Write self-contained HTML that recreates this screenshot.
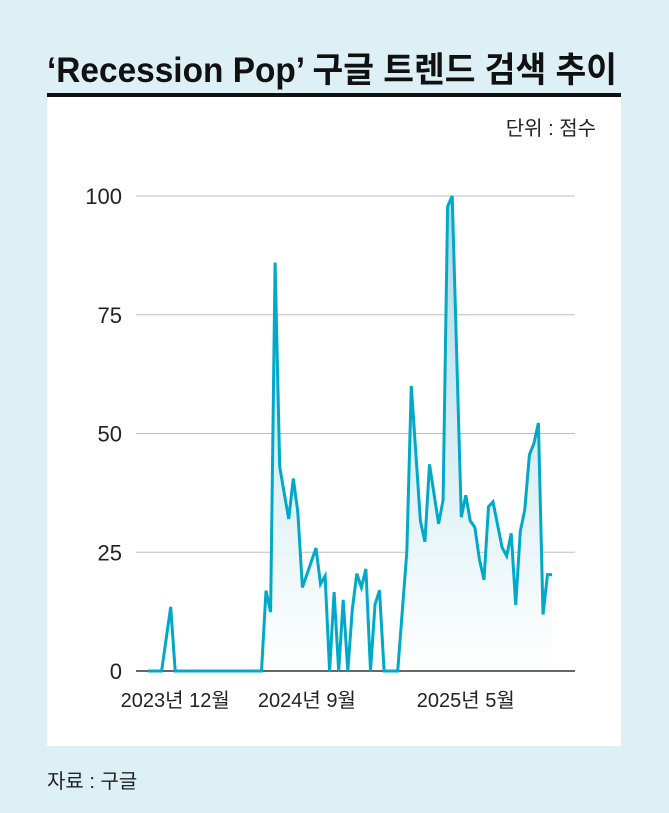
<!DOCTYPE html>
<html><head><meta charset="utf-8">
<style>
html,body{margin:0;padding:0;background:#dcf0f6;}
svg{display:block;}
text{font-family:"Liberation Sans Narrow","Liberation Sans","Noto Sans CJK KR",sans-serif;}
</style></head>
<body>
<svg width="669" height="813" viewBox="0 0 669 813">
  <defs>
    <linearGradient id="fillGrad" x1="0" y1="0" x2="0" y2="1">
      <stop offset="0" stop-color="#a9d9e8"/>
      <stop offset="1" stop-color="#ffffff" stop-opacity="0.9"/>
    </linearGradient>
  </defs>
  <rect x="0" y="0" width="669" height="813" fill="#dcf0f6"/>
  <text x="47" y="82" font-size="35" font-weight="bold" fill="#111" textLength="570" lengthAdjust="spacingAndGlyphs" style="font-family:'Liberation Sans','Noto Sans CJK KR',sans-serif">‘Recession Pop’ 구글 트렌드 검색 추이</text>
  <rect x="47" y="94" width="574" height="652" fill="#ffffff"/>
  <rect x="47" y="93" width="574" height="4" fill="#111"/>
  <text x="596" y="135" font-size="20" fill="#222" text-anchor="end" style="font-family:'Liberation Sans','Noto Sans CJK KR',sans-serif">단위 : 점수</text>
  <g id="grid"></g>
  <g id="yticks"></g>
  <path id="area" fill="url(#fillGrad)"/>
  <line x1="136" y1="671" x2="575" y2="671" stroke="#333" stroke-width="1.5"/>
  <path id="line" fill="none" stroke="#00a9c8" stroke-width="3" stroke-linejoin="miter"/>
  <g id="xticks"></g>
  <text x="47" y="788" font-size="20" fill="#222" style="font-family:'Liberation Sans','Noto Sans CJK KR',sans-serif">자료 : 구글</text>
</svg>
<script>
const weekIdx = [0,3,5,6,25,26,27,28,29,31,32,33,34,37,38,39,40,41,42,43,44,45,46,47,48,49,50,51,52,55,57,58,60,61,62,64,65,66,67,69,70,71,72,73,74,75,76,78,79,80,81,82,83,84,85,86,87,88,89];
const values = [0,0,13.5,0,0,16.9,12.4,86,43,32,40.5,33.5,17.6,25.9,18.3,20,0,16.6,0,15,0,13,20.5,17.6,21.5,0,14,17,0,0,25,60,31.6,27.2,43.5,31,36,97.8,100,32.4,37,31.6,30.2,23.5,19.2,34.6,35.6,26,24.2,29,13.9,29.4,34,45.5,47.9,52.2,11.9,20.3,20.3];
const yTicks = [0,25,50,75,100];
const xLabelIdx = [6,35,70];
const xLabels = ["2023년 12월","2024년 9월","2025년 5월"];

const NS = "http://www.w3.org/2000/svg";
const xS = i => 148 + i * 4.54;
const yS = v => 671 - v * 4.75;

const grid = document.getElementById('grid');
const yt = document.getElementById('yticks');
yTicks.forEach(t => {
  if (t > 0) {
    const l = document.createElementNS(NS, 'line');
    l.setAttribute('x1', 136); l.setAttribute('x2', 575);
    l.setAttribute('y1', yS(t)); l.setAttribute('y2', yS(t));
    l.setAttribute('stroke', '#bdbdbd'); l.setAttribute('stroke-width', '1');
    
    
    grid.appendChild(l);
  }
  const tx = document.createElementNS(NS, 'text');
  tx.setAttribute('x', 122); tx.setAttribute('y', yS(t) + 8);
  tx.setAttribute('text-anchor', 'end'); tx.setAttribute('font-size', '22');
  tx.setAttribute('fill', '#222');
  tx.textContent = t;
  
  
  yt.appendChild(tx);
});

let d = '';
weekIdx.forEach((w, i) => { d += (i ? 'L' : 'M') + xS(w).toFixed(1) + ' ' + yS(values[i]).toFixed(1) + ' '; });
document.getElementById('line').setAttribute('d', d);
const last = weekIdx[weekIdx.length - 1];
document.getElementById('area').setAttribute('d', d + 'L' + xS(last) + ' ' + yS(0) + ' L' + xS(weekIdx[0]) + ' ' + yS(0) + ' Z');

const xt = document.getElementById('xticks');
xLabelIdx.forEach((w, i) => {
  const tx = document.createElementNS(NS, 'text');
  tx.setAttribute('x', xS(w)); tx.setAttribute('y', 707);
  tx.setAttribute('text-anchor', 'middle'); tx.setAttribute('font-size', '20');
  tx.setAttribute('fill', '#222');
  tx.setAttribute('style', "font-family:'Liberation Sans Narrow','Liberation Sans','Noto Sans CJK KR',sans-serif");
  tx.textContent = xLabels[i];
  
  
  xt.appendChild(tx);
});
</script>
</body></html>
